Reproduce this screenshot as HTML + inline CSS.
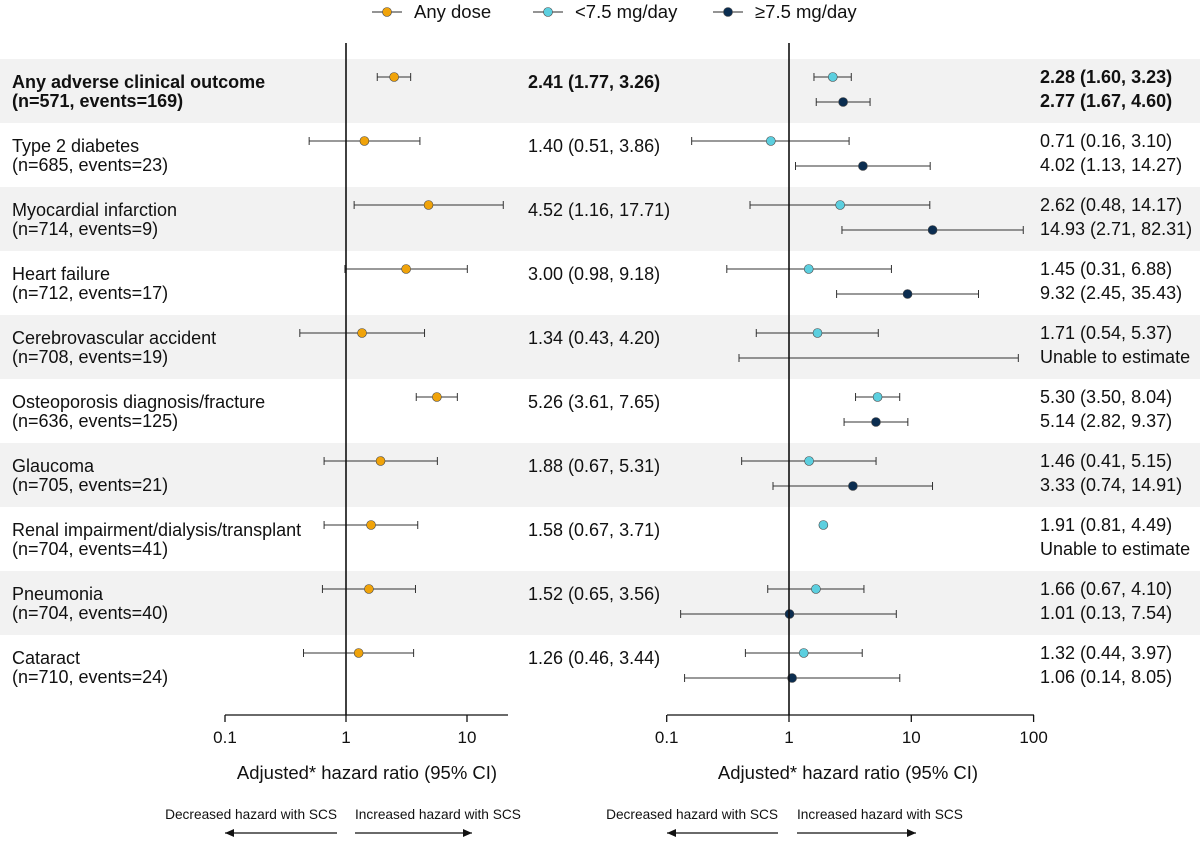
<!DOCTYPE html>
<html><head><meta charset="utf-8"><style>
body{margin:0;background:#fff}
svg{display:block;font-family:"Liberation Sans",Arial,sans-serif}
</style></head><body>
<svg id="c" width="1200" height="843" viewBox="0 0 1200 843"></svg>
<script>
const labels1=["Any adverse clinical outcome","Type 2 diabetes","Myocardial infarction","Heart failure","Cerebrovascular accident","Osteoporosis diagnosis/fracture","Glaucoma","Renal impairment/dialysis/transplant","Pneumonia","Cataract"];
const labels2=["(n=571, events=169)","(n=685, events=23)","(n=714, events=9)","(n=712, events=17)","(n=708, events=19)","(n=636, events=125)","(n=705, events=21)","(n=704, events=41)","(n=704, events=40)","(n=710, events=24)"];
const anyHR=[2.41,1.40,4.52,3.00,1.34,5.26,1.88,1.58,1.52,1.26];
const anyLo=[1.77,0.51,1.16,0.98,0.43,3.61,0.67,0.67,0.65,0.46];
const anyHi=[3.26,3.86,17.71,9.18,4.20,7.65,5.31,3.71,3.56,3.44];
const lowHR=[2.28,0.71,2.62,1.45,1.71,5.30,1.46,1.91,1.66,1.32];
const lowLo=[1.60,0.16,0.48,0.31,0.54,3.50,0.41,null,0.67,0.44];
const lowHi=[3.23,3.10,14.17,6.88,5.37,8.04,5.15,null,4.10,3.97];
const highHR=[2.77,4.02,14.93,9.32,null,5.14,3.33,null,1.01,1.06];
const highLo=[1.67,1.13,2.71,2.45,0.39,2.82,0.74,null,0.13,0.14];
const highHi=[4.60,14.27,82.31,35.43,75,9.37,14.91,null,7.54,8.05];
const anyTxt=["2.41 (1.77, 3.26)","1.40 (0.51, 3.86)","4.52 (1.16, 17.71)","3.00 (0.98, 9.18)","1.34 (0.43, 4.20)","5.26 (3.61, 7.65)","1.88 (0.67, 5.31)","1.58 (0.67, 3.71)","1.52 (0.65, 3.56)","1.26 (0.46, 3.44)"];
const lowTxt=["2.28 (1.60, 3.23)","0.71 (0.16, 3.10)","2.62 (0.48, 14.17)","1.45 (0.31, 6.88)","1.71 (0.54, 5.37)","5.30 (3.50, 8.04)","1.46 (0.41, 5.15)","1.91 (0.81, 4.49)","1.66 (0.67, 4.10)","1.32 (0.44, 3.97)"];
const highTxt=["2.77 (1.67, 4.60)","4.02 (1.13, 14.27)","14.93 (2.71, 82.31)","9.32 (2.45, 35.43)","Unable to estimate","5.14 (2.82, 9.37)","3.33 (0.74, 14.91)","Unable to estimate","1.01 (0.13, 7.54)","1.06 (0.14, 8.05)"];
const ticksL=[0.1,1,10];const ticksR=[0.1,1,10,100];
const NS="http://www.w3.org/2000/svg",svg=document.getElementById('c');
function el(t,a,txt){const e=document.createElementNS(NS,t);for(const k in a)e.setAttribute(k,a[k]);if(txt!=null)e.textContent=txt;svg.appendChild(e);return e;}
const xL=v=>346+126*Math.log10(v), xLt=v=>346+121*Math.log10(v), xR=v=>789+122.3*Math.log10(v);
const rowTop=i=>59+i*64;
const C={any:"#f0a30a",low:"#5ccfdf",high:"#0b2d50"};
const FS=18;
[[372,"Any dose",C.any],[533,"<7.5 mg/day",C.low],[713,"≥7.5 mg/day",C.high]].forEach((l,k)=>{
 const g=el('line',{x1:l[0],x2:l[0]+30,y1:12,y2:12,stroke:"#555","stroke-width":1.3});
 
 const c=el('circle',{cx:l[0]+15,cy:12,r:4.5,fill:l[2],stroke:"#444","stroke-width":0.6});
 
 const t=el('text',{x:l[0]+42,y:18,"font-size":18.5,fill:"#111"},l[1]);
 
});
for(let i=0;i<10;i++){
 if(i%2==0){const r=el('rect',{x:0,y:rowTop(i),width:1200,height:64,fill:"#f2f2f2"});}
}
function whisk(xf,lo,hi,y,hr,col){
 if(lo!=null){
  const l=el('line',{x1:xf(lo),x2:xf(hi),y1:y,y2:y,stroke:"#333","stroke-width":1});
  [lo,hi].forEach(v=>{const c=el('line',{x1:xf(v),x2:xf(v),y1:y-4,y2:y+4,stroke:"#333","stroke-width":1});});
 }
 if(hr!=null){const p=el('circle',{cx:xf(hr),cy:y,r:4.5,fill:col,stroke:"#444","stroke-width":0.6});}
}
for(let i=0;i<10;i++){
 const t=rowTop(i),b=i==0?"bold":"normal";
 const a=el('text',{x:12,y:t+29,"font-size":FS,"font-weight":b,fill:"#111"},labels1[i]);
 const a2=el('text',{x:12,y:t+48,"font-size":FS,"font-weight":b,fill:"#111"},labels2[i]);
 const v=el('text',{x:528,y:t+29,"font-size":FS,"font-weight":b,fill:"#111"},anyTxt[i]);
 const v2=el('text',{x:1040,y:t+24,"font-size":FS,"font-weight":b,fill:"#111"},lowTxt[i]);
 const v3=el('text',{x:1040,y:t+48,"font-size":FS,"font-weight":b,fill:"#111"},highTxt[i]);
 whisk(xL,anyLo[i],anyHi[i],t+18,anyHR[i],C.any);
 whisk(xR,lowLo[i],lowHi[i],t+18,lowHR[i],C.low);
 whisk(xR,highLo[i],highHi[i],t+43,highHR[i],C.high);
}
function axis(xf,ticks,x0,x1,name,cx){
 const r=el('line',{x1:xf(1),x2:xf(1),y1:43,y2:715,stroke:"#111","stroke-width":1.6});
 const a=el('line',{x1:x0,x2:x1,y1:715,y2:715,stroke:"#111","stroke-width":1.3});
 ticks.forEach(v=>{const tk=el('line',{x1:xf(v),x2:xf(v),y1:715,y2:722,stroke:"#111","stroke-width":1.3});
  const tl=el('text',{x:xf(v),y:743,"font-size":17,"text-anchor":"middle",fill:"#111"},String(v));});
 const tt=el('text',{x:cx,y:779,"font-size":18.5,"text-anchor":"middle",fill:"#111"},"Adjusted* hazard ratio (95% CI)");
}
axis(xLt,ticksL,225,508,'left',367);
axis(xR,ticksR,667,1034,'right',848);
function arrow(x1,x2,txt,tx,anchor){
 const l=el('line',{x1:x1,x2:x2,y1:833,y2:833,stroke:"#111","stroke-width":1.3});
 const d=x2>x1?-1:1;const h=el('polygon',{points:`${x2},833 ${x2+d*9},829 ${x2+d*9},837`,fill:"#111"});
 const t=el('text',{x:tx,y:819,"font-size":13.7,"text-anchor":anchor,fill:"#111"},txt);
}
arrow(337,225,"Decreased hazard with SCS",337,"end");
arrow(355,472,"Increased hazard with SCS",355,"start");
arrow(778,667,"Decreased hazard with SCS",778,"end");
arrow(797,916,"Increased hazard with SCS",797,"start");
</script>
</body></html>
